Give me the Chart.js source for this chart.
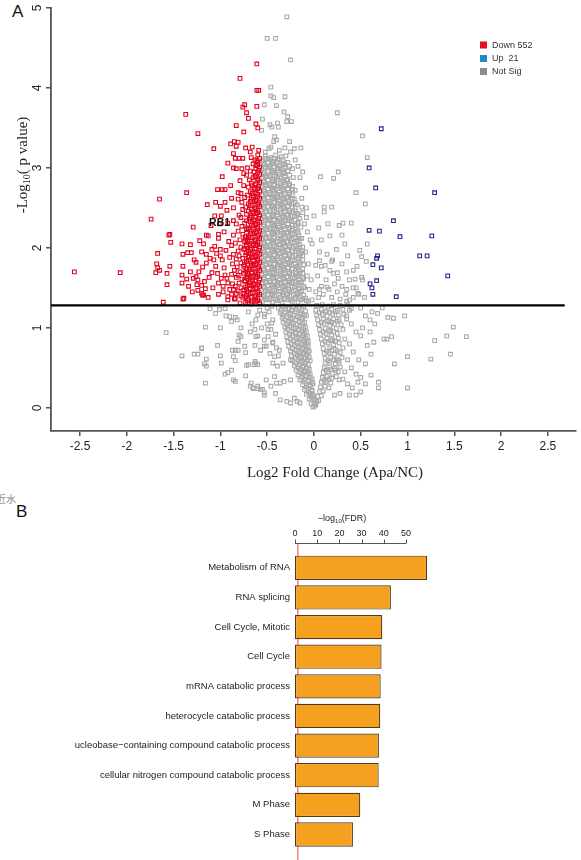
<!DOCTYPE html>
<html>
<head>
<meta charset="utf-8">
<script src="https://cdn.jsdelivr.net/npm/chart.js@4.4.1/dist/chart.umd.min.js"></script>
<style>
  body { margin: 0; background: #fff; width: 581px; height: 860px; position: relative; overflow: hidden; font-family: "Liberation Sans", Arial, sans-serif; }
  canvas { position: absolute; left: 0; }
  #volcano { top: 0; }
  #bars { top: 500px; }
  .tag { position: absolute; line-height: 1; color: #111; font-size: 17px; }
  .wm { position: absolute; left: -4px; top: 494px; font: 10px "Noto Sans CJK SC", sans-serif; color: #8a8a8a; line-height: 1; }
</style>
</head>
<body>
<div class="tag" style="left:12px;top:3px">A</div>
<div class="wm">近水</div>
<div class="tag" style="left:16px;top:503px">B</div>
<canvas id="volcano" width="581" height="490"></canvas>
<canvas id="bars" width="581" height="360"></canvas>
<script>
// ---------- panel A: volcano plot ----------
const xTicks = [-2.5, -2, -1.5, -1, -0.5, 0, 0.5, 1, 1.5, 2, 2.5];
const yTicks = [0, 1, 2, 3, 4, 5];
const pCut = 1.28;              // -log10(p) cut line
const cutLineX = [-2.81, 2.68];
const legendLabels = ['Down 552', 'Up  21', 'Not Sig'];
const legendColors = ['#e3101e', '#1e8bc3', '#8c8c8c'];
const geneLabels = ['RB1'];
const geneLabelPos = [[-1.12, 2.31]];

// significant up (log2FC, -log10 p)
const upPts = [[0.72,3.49],[0.59,3.00],[0.66,2.75],[1.29,2.69],[0.85,2.34],[0.59,2.22],[0.70,2.21],[0.92,2.14],[1.26,2.15],[1.13,1.90],[1.21,1.90],[0.68,1.90],[0.67,1.87],[0.63,1.79],[0.72,1.75],[1.43,1.65],[0.67,1.59],[0.60,1.55],[0.62,1.50],[0.63,1.42],[0.88,1.39]];

// significant down
const downPts = [
[-2.56,1.70],[-2.07,1.69],[-1.74,2.36],[-1.65,2.61],[-1.37,3.67],[-1.24,3.43],[-1.36,2.69],[-1.07,3.24],
[-1.69,1.69],[-1.67,1.75],[-1.68,1.80],[-1.67,1.93],[-1.65,1.72],[-1.57,1.68],[-1.54,1.77],[-1.57,1.54],[-1.61,1.32],[-1.55,2.16],[-1.53,2.07],[-1.54,2.17],
[-1.41,2.05],[-1.32,2.04],[-1.22,2.09],[-1.13,2.15],[-1.02,2.17],[-1.02,2.12],[-1.40,1.92],[-1.35,1.94],[-1.31,1.94],[-1.28,1.85],[-1.40,1.77],[-1.41,1.66],[-1.36,1.61],[-1.41,1.56],[-1.34,1.52],[-1.30,1.45],[-1.39,1.37],[-1.40,1.36],[-1.29,2.26],[-1.15,2.16],[-1.19,1.41],[-1.20,1.43],
[-1.26,1.64],[-1.24,1.60],[-1.20,1.53],[-1.16,1.49],[-1.25,1.54],[-1.32,1.70],[-1.23,1.70],[-1.19,1.76],[-1.15,1.81],[-1.15,1.92],[-1.11,1.87],[-1.09,1.98],[-1.06,2.02],[-1.04,1.93],[-1.00,1.98],[-0.98,1.85],[-1.05,1.77],[-1.09,1.69],[-1.03,1.68],[-0.99,1.62],[-0.95,1.66],[-0.92,1.56],[-1.02,1.56],[-0.97,1.45],[-0.92,1.39],[-0.84,1.37],[-0.83,1.43],[-0.92,1.35],[-1.18,1.41],
[-0.90,1.48],[-0.93,1.62],[-0.96,1.75],[-0.90,1.88],[-0.94,1.97],[-0.91,2.08],[-0.96,2.20],[-0.92,2.31],[-0.99,2.40],[-0.93,2.47],[-1.01,2.30],[-1.06,2.40],[-1.10,2.28],[-1.00,1.90],[-1.07,1.85],[-1.12,1.63],[-1.08,1.50],[-1.02,1.42],[-0.97,1.52],[-1.13,1.38],[-1.17,1.58],[-1.20,1.95],[-1.18,2.05],[-1.26,1.82],[-1.29,1.62],[-1.24,1.47],
[-0.61,4.30],[-0.79,4.12],[-0.61,3.97],[-0.59,3.97],[-0.74,3.79],[-0.76,3.76],[-0.61,3.77],[-0.72,3.69],[-0.70,3.62],[-0.83,3.53],[-0.62,3.55],[-0.60,3.50],[-0.75,3.45],[-0.89,3.30],[-0.85,3.33],[-0.81,3.32],[-0.83,3.27],[-0.73,3.25],[-0.66,3.26],[-0.86,3.18],[-0.68,3.20],[-0.92,3.06],[-0.84,3.12],[-0.80,3.12],[-0.76,3.12],[-0.86,3.00],[-0.83,2.99],[-0.77,2.99],[-0.98,2.89],[-0.79,2.84],[-0.72,2.91],[-1.03,2.73],[-0.98,2.73],[-0.95,2.73],[-0.89,2.78],[-1.14,2.54],[-1.05,2.57],[-1.00,2.52],[-0.95,2.57],[-0.81,2.69],[-0.81,2.61],[-0.88,2.62],[-0.86,2.34],
[-0.58,1.31],[-0.62,1.33],[-0.67,1.30],[-0.73,1.32],[-0.79,1.31],
[-0.60,1.37],[-0.64,1.35],[-0.70,1.36],[-0.76,1.38],[-0.85,1.36],
[-0.58,1.42],[-0.63,1.40],[-0.68,1.43],[-0.72,1.41],[-0.78,1.40],[-0.88,1.42],
[-0.60,1.46],[-0.65,1.48],[-0.70,1.45],[-0.75,1.47],[-0.81,1.46],[-0.86,1.48],
[-0.58,1.52],[-0.62,1.50],[-0.67,1.53],[-0.73,1.51],[-0.78,1.50],[-0.84,1.52],
[-0.59,1.57],[-0.64,1.55],[-0.69,1.56],[-0.74,1.58],[-0.80,1.56],[-0.87,1.55],
[-0.58,1.61],[-0.62,1.63],[-0.66,1.60],[-0.71,1.62],[-0.77,1.61],[-0.83,1.63],
[-0.60,1.67],[-0.65,1.65],[-0.70,1.66],[-0.75,1.68],[-0.81,1.66],[-0.88,1.67],
[-0.58,1.72],[-0.63,1.70],[-0.68,1.73],[-0.73,1.71],[-0.79,1.70],[-0.85,1.72],
[-0.59,1.76],[-0.64,1.78],[-0.69,1.75],[-0.75,1.77],[-0.82,1.76],
[-0.58,1.82],[-0.62,1.80],[-0.67,1.81],[-0.72,1.83],[-0.78,1.81],[-0.87,1.80],
[-0.60,1.86],[-0.65,1.88],[-0.70,1.85],[-0.76,1.87],[-0.83,1.86],
[-0.58,1.92],[-0.63,1.90],[-0.68,1.93],[-0.73,1.91],[-0.80,1.90],[-0.86,1.92],
[-0.59,1.97],[-0.64,1.95],[-0.70,1.96],[-0.75,1.98],[-0.81,1.96],
[-0.58,2.01],[-0.62,2.03],[-0.67,2.00],[-0.72,2.02],[-0.78,2.01],[-0.88,2.03],
[-0.60,2.07],[-0.65,2.05],[-0.69,2.06],[-0.74,2.08],[-0.84,2.06],
[-0.58,2.12],[-0.63,2.10],[-0.68,2.13],[-0.73,2.11],[-0.79,2.10],
[-0.59,2.16],[-0.64,2.18],[-0.70,2.15],[-0.76,2.17],[-0.86,2.16],
[-0.58,2.22],[-0.62,2.20],[-0.67,2.21],[-0.72,2.23],[-0.81,2.21],
[-0.60,2.26],[-0.65,2.28],[-0.70,2.25],[-0.77,2.27],
[-0.58,2.32],[-0.63,2.30],[-0.68,2.33],[-0.74,2.31],[-0.83,2.30],
[-0.59,2.37],[-0.64,2.35],[-0.69,2.36],[-0.78,2.38],
[-0.58,2.41],[-0.62,2.43],[-0.67,2.40],[-0.72,2.42],[-0.80,2.41],
[-0.60,2.47],[-0.65,2.45],[-0.70,2.46],[-0.76,2.48],
[-0.58,2.52],[-0.63,2.50],[-0.68,2.53],[-0.73,2.51],[-0.86,2.50],
[-0.59,2.56],[-0.64,2.58],[-0.70,2.55],[-0.77,2.57],
[-0.58,2.62],[-0.62,2.60],[-0.67,2.61],[-0.74,2.63],
[-0.60,2.67],[-0.65,2.65],[-0.71,2.66],[-0.78,2.68],
[-0.58,2.71],[-0.63,2.73],[-0.68,2.70],
[-0.59,2.77],[-0.64,2.75],[-0.70,2.76],[-0.75,2.78],
[-0.58,2.82],[-0.62,2.80],[-0.67,2.81],
[-0.60,2.86],[-0.65,2.88],[-0.69,2.85],
[-0.58,2.92],[-0.63,2.90],[-0.75,2.93],
[-0.59,2.97],[-0.64,2.95],[-0.68,2.96],
[-0.58,3.01],[-0.62,3.03],[-0.71,3.00],
[-0.60,3.07],[-0.65,3.05],
[-0.58,3.12],[-0.63,3.10],[-0.67,3.13],
[-0.60,3.16],[-0.59,3.22],
[-0.60,1.34],[-0.66,1.33],[-0.71,1.34],[-0.62,1.39],[-0.67,1.38],[-0.73,1.39],[-0.60,1.44],[-0.66,1.44],[-0.75,1.43],[-0.62,1.49],[-0.68,1.49],[-0.72,1.48],[-0.60,1.54],[-0.65,1.54],[-0.71,1.53],[-0.62,1.59],[-0.68,1.58],[-0.74,1.59],[-0.60,1.64],[-0.67,1.63],[-0.72,1.64],[-0.62,1.69],[-0.66,1.69],[-0.71,1.68],[-0.60,1.74],[-0.66,1.73],[-0.72,1.74],[-0.62,1.79],[-0.67,1.78],[-0.74,1.79],[-0.60,1.84],[-0.65,1.84],[-0.72,1.83],[-0.62,1.89],[-0.67,1.88],[-0.70,1.89],[-0.60,1.94],[-0.66,1.93],[-0.72,1.94],[-0.62,1.99],[-0.68,1.98],[-0.74,1.99],[-0.60,2.04],[-0.65,2.03],[-0.72,2.04],[-0.62,2.09],[-0.67,2.08],[-0.71,2.09],[-0.60,2.14],[-0.66,2.13],[-0.73,2.14],[-0.62,2.19],[-0.68,2.18],[-0.60,2.24],[-0.65,2.23],[-0.72,2.24],[-0.62,2.29],[-0.67,2.28],[-0.60,2.34],[-0.66,2.33],[-0.72,2.34],[-0.62,2.39],[-0.68,2.38],[-0.60,2.44],[-0.65,2.43],[-0.62,2.49],[-0.67,2.48],[-0.60,2.54],[-0.66,2.53],[-0.62,2.59],[-0.68,2.58],[-0.60,2.64],[-0.65,2.63],[-0.62,2.69],[-0.66,2.68],[-0.60,2.74],[-0.62,2.79],[-0.66,2.78],[-0.60,2.84],[-0.62,2.89],[-0.60,2.94],[-0.62,2.99],[-0.60,3.04],[-0.61,3.09]
];

// not significant
const nsPts = [
[-0.29,4.89],[-0.50,4.62],[-0.41,4.62],[-0.25,4.35],[-0.46,4.01],[-0.46,3.90],[-0.43,3.88],[-0.31,3.89],[-0.53,3.79],[-0.40,3.78],[-0.32,3.70],[-0.28,3.64],[-0.24,3.58],[-0.29,3.58],[-0.55,3.61],[-0.47,3.54],[-0.45,3.51],[-0.39,3.56],[-0.38,3.51],[-0.56,3.47],[-0.42,3.39],[-0.40,3.35],[-0.43,3.33],[-0.26,3.33],[-0.14,3.25],[-0.48,3.24],[-0.46,3.26],[-0.37,3.22],[-0.31,3.25],[-0.25,3.20],[-0.21,3.24],[-0.52,3.20],
[0.25,3.69],[0.52,3.40],[0.57,3.13],[0.07,2.89],[0.21,2.87],[0.26,2.95],[0.45,2.69],[0.55,2.55],[0.15,2.30],[0.11,2.51],[0.19,2.51],[0.11,2.45],[0.17,2.15],[0.30,2.16],[-0.13,2.51],[-0.08,2.50],[-0.12,2.44],
[-0.10,2.30],[-0.08,2.38],[-0.13,2.62],[-0.09,2.75],[-0.15,2.88],[-0.12,2.95],[-0.17,3.02],[-0.20,3.10],[-0.07,2.20],[-0.04,2.10],[-0.09,1.95],[-0.06,1.80],[-0.07,1.65],[-0.05,1.48],[-0.03,1.60],
[-0.02,1.35],[0.02,1.45],[0.05,1.38],[0.08,1.52],[0.04,1.65],[0.10,1.42],[0.13,1.60],[0.16,1.48],[0.19,1.38],[0.22,1.55],[0.25,1.45],[0.28,1.36],[0.12,1.78],[0.17,1.72],[0.21,1.68],[0.26,1.62],[0.30,1.52],[0.34,1.42],[0.38,1.35],[0.06,1.95],[0.14,1.92],[0.20,1.85],[0.24,1.98],[0.30,1.80],[0.36,1.90],[0.42,1.72],[0.08,2.10],[0.31,2.31],[0.40,2.31],[0.57,2.05],[0.05,2.25],[-0.02,2.05],[0.00,2.40],[0.02,1.78],[0.45,1.50],[0.48,1.42],[0.52,1.60],[0.38,1.60],[0.33,2.05],[0.27,2.28],[0.35,1.33],[0.42,1.38],
[0.06,1.84],[0.08,1.77],[0.19,1.83],[0.35,1.70],[0.25,1.69],[0.44,1.61],[0.51,1.63],[0.06,1.48],[0.14,1.51],[0.35,1.48],[0.42,1.50],[0.47,1.43],[0.54,1.38],[0.49,1.97],[0.51,1.89],[0.56,1.83],[0.46,1.77],
[0.97,1.15],[0.85,1.12],[0.79,1.13],[0.62,1.20],[0.73,1.25],[0.50,1.25],[0.40,1.24],[0.60,1.10],[1.49,1.01],[1.42,0.90],[1.63,0.89],[1.29,0.84],[0.83,0.89],[0.75,0.86],[0.78,0.86],[0.64,0.82],[0.57,0.78],[1.46,0.67],[1.25,0.61],[1.00,0.64],[0.86,0.55],[0.61,0.67],[1.00,0.25],[0.69,0.32],[0.69,0.25],[0.61,0.41],[0.50,0.38],[0.47,0.32],[0.41,0.25],[0.36,0.30],[0.31,0.36],[0.27,0.35],[0.28,0.18],[0.22,0.16],[0.38,0.16],[0.45,0.16],
[0.40,1.05],[0.45,0.95],[0.50,0.90],[0.38,0.80],[0.42,0.70],[0.48,0.60],[0.55,0.55],[0.36,0.60],[0.40,0.50],[0.52,1.00],[0.60,0.95],[0.65,1.05],[0.45,0.42],[0.33,0.45],[0.55,0.30],[0.50,0.20],[0.35,1.15],[0.55,1.15],[0.68,1.18],
[-1.58,0.94],[-1.16,1.01],[-1.00,1.00],[-1.20,0.75],[-1.41,0.65],[-1.28,0.67],[-1.24,0.67],[-1.20,0.74],[-1.16,0.31],[-1.03,0.78],[-1.00,0.65],[-0.99,0.56],[-1.15,0.61],[-1.17,0.55],[-1.15,0.52],[-1.11,1.24],[-1.05,1.18],[-1.01,1.23],[-0.95,1.24],[-0.94,1.15],[-0.90,1.14],[-0.84,1.13],[-0.82,1.10],[-0.88,1.08],
[-0.87,0.72],[-0.84,0.72],[-0.84,0.59],[-0.88,0.47],[-0.92,0.44],[-0.95,0.42],[-0.86,0.35],[-0.84,0.33],[-0.86,0.64],[-0.81,0.72],[-0.72,0.53],[-0.73,0.40],[-0.64,0.54],[-0.62,0.56],[-0.80,0.91],[-0.78,0.89],[-0.81,0.83],[-0.78,1.00],[-0.73,0.69],[-0.74,0.77],[-0.70,0.54],[-0.63,0.58],[-0.60,0.54],
[-0.68,0.27],[-0.65,0.24],[-0.60,0.24],[-0.57,0.23],[-0.53,0.19],[-0.51,0.35],[-0.42,0.39],[-0.40,0.31],[-0.36,0.31],[-0.32,0.33],[-0.25,0.35],[-0.44,0.56],[-0.39,0.52],[-0.33,0.56],[-0.25,0.60],[-0.53,0.85],[-0.49,0.89],[-0.53,0.77],[-0.67,0.31],[-0.65,0.25],[-0.60,0.27],[-0.55,0.23],[-0.53,0.16],[-0.46,0.27],[-0.41,0.18],[-0.36,0.10],[-0.29,0.08],[-0.25,0.06],[-0.21,0.12],[-0.18,0.08],[-0.15,0.06],
[-0.58,1.22],[-0.53,1.17],[-0.48,1.20],[-0.44,1.10],[-0.50,1.05],[-0.56,1.00],[-0.46,0.98],[-0.41,0.92],[-0.44,0.82],[-0.40,0.75],[-0.38,0.65],[-0.47,0.68],[-0.60,0.90],[-0.62,1.10],[-0.66,1.05],[-0.68,0.95],[-0.57,0.72],[-0.63,0.78],[-0.63,0.98],[-0.62,0.89],[-0.60,1.16],[-0.53,1.14],[-0.49,0.98],[-0.45,1.06],[-0.51,0.77],[-0.44,0.81],[-0.37,0.72],[-0.42,0.64],[-0.50,1.25],[-0.45,1.27],[-0.70,1.20],
[-0.55,1.33],[-0.50,1.35],[-0.44,1.32],[-0.39,1.34],[-0.34,1.31],[-0.28,1.35],[-0.23,1.33],[-0.17,1.32],[-0.12,1.36],[-0.06,1.33],
[-0.53,1.39],[-0.47,1.37],[-0.42,1.40],[-0.36,1.38],[-0.31,1.37],[-0.26,1.40],[-0.20,1.38],[-0.15,1.39],[-0.09,1.37],
[-0.56,1.44],[-0.50,1.46],[-0.45,1.43],[-0.40,1.45],[-0.33,1.44],[-0.29,1.42],[-0.24,1.45],[-0.18,1.44],[-0.13,1.46],
[-0.53,1.50],[-0.48,1.48],[-0.42,1.51],[-0.37,1.49],[-0.31,1.50],[-0.27,1.48],[-0.21,1.51],[-0.16,1.49],[-0.10,1.50],
[-0.55,1.55],[-0.51,1.57],[-0.45,1.54],[-0.39,1.56],[-0.35,1.55],[-0.30,1.53],[-0.24,1.56],[-0.19,1.55],[-0.13,1.57],
[-0.53,1.61],[-0.47,1.59],[-0.43,1.62],[-0.37,1.60],[-0.32,1.61],[-0.26,1.59],[-0.21,1.62],[-0.16,1.60],[-0.11,1.61],
[-0.56,1.66],[-0.50,1.68],[-0.44,1.65],[-0.40,1.67],[-0.34,1.66],[-0.29,1.64],[-0.23,1.67],[-0.18,1.66],[-0.12,1.68],
[-0.53,1.72],[-0.48,1.70],[-0.42,1.73],[-0.36,1.71],[-0.31,1.72],[-0.27,1.70],[-0.20,1.73],[-0.15,1.71],
[-0.55,1.77],[-0.51,1.79],[-0.45,1.76],[-0.39,1.78],[-0.34,1.77],[-0.28,1.75],[-0.24,1.78],[-0.18,1.77],[-0.11,1.79],
[-0.53,1.83],[-0.47,1.81],[-0.42,1.84],[-0.37,1.82],[-0.32,1.83],[-0.26,1.81],[-0.21,1.84],[-0.15,1.82],
[-0.56,1.88],[-0.50,1.90],[-0.44,1.87],[-0.39,1.89],[-0.35,1.88],[-0.29,1.86],[-0.23,1.89],[-0.17,1.88],[-0.12,1.90],
[-0.53,1.94],[-0.48,1.92],[-0.42,1.95],[-0.37,1.93],[-0.31,1.94],[-0.26,1.92],[-0.20,1.95],[-0.14,1.93],
[-0.55,1.99],[-0.50,2.01],[-0.45,1.98],[-0.40,2.00],[-0.34,1.99],[-0.28,1.97],[-0.23,2.00],[-0.18,1.99],[-0.12,2.01],
[-0.53,2.05],[-0.47,2.03],[-0.43,2.06],[-0.37,2.04],[-0.32,2.05],[-0.26,2.03],[-0.21,2.06],[-0.15,2.04],
[-0.56,2.10],[-0.51,2.12],[-0.45,2.09],[-0.39,2.11],[-0.34,2.10],[-0.29,2.08],[-0.24,2.11],[-0.18,2.10],[-0.13,2.12],
[-0.53,2.16],[-0.48,2.14],[-0.42,2.17],[-0.36,2.15],[-0.31,2.16],[-0.27,2.14],[-0.21,2.17],[-0.16,2.15],
[-0.55,2.21],[-0.50,2.23],[-0.44,2.20],[-0.40,2.22],[-0.35,2.21],[-0.29,2.19],[-0.23,2.22],[-0.18,2.21],
[-0.53,2.27],[-0.47,2.25],[-0.42,2.28],[-0.37,2.26],[-0.32,2.27],[-0.26,2.25],[-0.20,2.28],[-0.14,2.26],
[-0.56,2.32],[-0.50,2.34],[-0.45,2.31],[-0.39,2.33],[-0.34,2.32],[-0.28,2.30],[-0.24,2.33],[-0.17,2.32],
[-0.53,2.38],[-0.48,2.36],[-0.43,2.39],[-0.37,2.37],[-0.31,2.38],[-0.27,2.36],[-0.21,2.39],[-0.15,2.37],
[-0.55,2.43],[-0.51,2.45],[-0.44,2.42],[-0.40,2.44],[-0.35,2.43],[-0.29,2.41],[-0.23,2.44],[-0.18,2.43],
[-0.53,2.49],[-0.47,2.47],[-0.42,2.50],[-0.36,2.48],[-0.32,2.49],[-0.26,2.47],[-0.20,2.50],
[-0.56,2.54],[-0.50,2.56],[-0.45,2.53],[-0.39,2.55],[-0.34,2.54],[-0.28,2.52],[-0.24,2.55],[-0.18,2.54],
[-0.53,2.60],[-0.48,2.58],[-0.42,2.61],[-0.37,2.59],[-0.31,2.60],[-0.27,2.58],[-0.21,2.61],
[-0.55,2.65],[-0.50,2.67],[-0.44,2.64],[-0.40,2.66],[-0.35,2.65],[-0.29,2.63],[-0.23,2.66],
[-0.53,2.71],[-0.47,2.69],[-0.43,2.72],[-0.37,2.70],[-0.32,2.71],[-0.26,2.69],[-0.20,2.72],
[-0.56,2.76],[-0.51,2.78],[-0.45,2.75],[-0.39,2.77],[-0.34,2.76],[-0.28,2.74],[-0.23,2.77],
[-0.53,2.82],[-0.48,2.80],[-0.42,2.83],[-0.36,2.81],[-0.31,2.82],[-0.26,2.80],
[-0.55,2.87],[-0.50,2.89],[-0.44,2.86],[-0.40,2.88],[-0.35,2.87],[-0.29,2.85],[-0.22,2.88],
[-0.53,2.93],[-0.47,2.91],[-0.42,2.94],[-0.37,2.92],[-0.32,2.93],[-0.26,2.91],
[-0.56,2.98],[-0.50,3.00],[-0.45,2.97],[-0.39,2.99],[-0.34,2.98],[-0.28,2.96],[-0.23,2.99],
[-0.53,3.04],[-0.48,3.02],[-0.43,3.05],[-0.37,3.03],[-0.31,3.04],[-0.26,3.02],
[-0.55,3.09],[-0.49,3.11],[-0.44,3.08],[-0.39,3.10],[-0.33,3.09],[-0.28,3.07],
[-0.52,3.15],[-0.46,3.13],[-0.41,3.16],[-0.35,3.14],[-0.30,3.15],
[-0.52,1.36],[-0.47,1.35],[-0.41,1.36],[-0.36,1.35],[-0.31,1.36],[-0.25,1.35],[-0.20,1.36],[-0.14,1.35],[-0.08,1.34],
[-0.54,1.41],[-0.49,1.42],[-0.44,1.41],[-0.38,1.42],[-0.33,1.41],[-0.28,1.42],[-0.22,1.41],[-0.17,1.42],[-0.11,1.41],
[-0.52,1.47],[-0.47,1.46],[-0.42,1.47],[-0.36,1.46],[-0.31,1.47],[-0.26,1.46],[-0.20,1.47],[-0.15,1.46],
[-0.54,1.52],[-0.49,1.53],[-0.44,1.52],[-0.39,1.53],[-0.33,1.52],[-0.28,1.53],[-0.23,1.52],[-0.17,1.53],[-0.11,1.52],
[-0.52,1.58],[-0.47,1.57],[-0.42,1.58],[-0.36,1.57],[-0.31,1.58],[-0.26,1.57],[-0.20,1.58],[-0.15,1.57],
[-0.54,1.63],[-0.49,1.64],[-0.44,1.63],[-0.39,1.64],[-0.33,1.63],[-0.28,1.64],[-0.23,1.63],[-0.17,1.64],[-0.12,1.63],
[-0.52,1.69],[-0.47,1.68],[-0.42,1.69],[-0.36,1.68],[-0.31,1.69],[-0.26,1.68],[-0.20,1.69],[-0.15,1.68],
[-0.54,1.74],[-0.49,1.75],[-0.44,1.74],[-0.39,1.75],[-0.33,1.74],[-0.28,1.75],[-0.23,1.74],[-0.17,1.75],[-0.12,1.74],
[-0.52,1.80],[-0.47,1.79],[-0.42,1.80],[-0.36,1.79],[-0.31,1.80],[-0.26,1.79],[-0.20,1.80],[-0.15,1.79],
[-0.54,1.85],[-0.49,1.86],[-0.44,1.85],[-0.39,1.86],[-0.33,1.85],[-0.28,1.86],[-0.23,1.85],[-0.17,1.86],[-0.12,1.85],
[-0.52,1.91],[-0.47,1.90],[-0.42,1.91],[-0.36,1.90],[-0.31,1.91],[-0.26,1.90],[-0.20,1.91],[-0.15,1.90],
[-0.54,1.96],[-0.49,1.97],[-0.44,1.96],[-0.39,1.97],[-0.33,1.96],[-0.28,1.97],[-0.23,1.96],[-0.17,1.97],[-0.12,1.96],
[-0.52,2.02],[-0.47,2.01],[-0.42,2.02],[-0.36,2.01],[-0.31,2.02],[-0.26,2.01],[-0.20,2.02],[-0.15,2.01],
[-0.54,2.07],[-0.49,2.08],[-0.44,2.07],[-0.39,2.08],[-0.33,2.07],[-0.28,2.08],[-0.23,2.07],[-0.17,2.08],
[-0.52,2.13],[-0.47,2.12],[-0.42,2.13],[-0.36,2.12],[-0.31,2.13],[-0.26,2.12],[-0.20,2.13],[-0.15,2.12],
[-0.54,2.18],[-0.49,2.19],[-0.44,2.18],[-0.39,2.19],[-0.33,2.18],[-0.28,2.19],[-0.23,2.18],[-0.17,2.19],
[-0.52,2.24],[-0.47,2.23],[-0.42,2.24],[-0.36,2.23],[-0.31,2.24],[-0.26,2.23],[-0.20,2.24],
[-0.54,2.29],[-0.49,2.30],[-0.44,2.29],[-0.39,2.30],[-0.33,2.29],[-0.28,2.30],[-0.23,2.29],[-0.17,2.30],
[-0.52,2.35],[-0.47,2.34],[-0.42,2.35],[-0.36,2.34],[-0.31,2.35],[-0.26,2.34],[-0.20,2.35],
[-0.54,2.40],[-0.49,2.41],[-0.44,2.40],[-0.39,2.41],[-0.33,2.40],[-0.28,2.41],[-0.23,2.40],[-0.17,2.41],
[-0.52,2.46],[-0.47,2.45],[-0.42,2.46],[-0.36,2.45],[-0.31,2.46],[-0.26,2.45],[-0.20,2.46],
[-0.54,2.51],[-0.49,2.52],[-0.44,2.51],[-0.39,2.52],[-0.33,2.51],[-0.28,2.52],[-0.23,2.51],
[-0.52,2.57],[-0.47,2.56],[-0.42,2.57],[-0.36,2.56],[-0.31,2.57],[-0.26,2.56],[-0.20,2.57],
[-0.54,2.62],[-0.49,2.63],[-0.44,2.62],[-0.39,2.63],[-0.33,2.62],[-0.28,2.63],[-0.23,2.62],
[-0.52,2.68],[-0.47,2.67],[-0.42,2.68],[-0.36,2.67],[-0.31,2.68],[-0.26,2.67],
[-0.54,2.73],[-0.49,2.74],[-0.44,2.73],[-0.39,2.74],[-0.33,2.73],[-0.28,2.74],[-0.23,2.73],
[-0.52,2.79],[-0.47,2.78],[-0.42,2.79],[-0.36,2.78],[-0.31,2.79],[-0.26,2.78],
[-0.54,2.84],[-0.49,2.85],[-0.44,2.84],[-0.39,2.85],[-0.33,2.84],[-0.28,2.85],
[-0.52,2.90],[-0.47,2.89],[-0.42,2.90],[-0.36,2.89],[-0.31,2.90],
[-0.54,2.95],[-0.49,2.96],[-0.44,2.95],[-0.39,2.96],[-0.33,2.95],[-0.28,2.96],
[-0.52,3.01],[-0.47,3.00],[-0.42,3.01],[-0.36,3.00],[-0.31,3.01],
[-0.54,3.06],[-0.49,3.07],[-0.44,3.06],[-0.39,3.07],[-0.33,3.06],
[-0.52,3.12],[-0.47,3.11],[-0.42,3.12],[-0.37,3.11],
[-0.38,1.25],[-0.33,1.27],[-0.27,1.24],[-0.22,1.26],[-0.16,1.25],[-0.11,1.27],
[-0.36,1.19],[-0.31,1.20],[-0.25,1.18],[-0.20,1.20],[-0.14,1.19],[-0.09,1.21],
[-0.34,1.13],[-0.29,1.14],[-0.23,1.12],[-0.18,1.14],[-0.12,1.13],[-0.08,1.15],
[-0.33,1.07],[-0.27,1.08],[-0.22,1.06],[-0.16,1.08],[-0.10,1.07],
[-0.31,1.01],[-0.26,1.02],[-0.20,1.00],[-0.15,1.02],[-0.09,1.01],
[-0.30,0.95],[-0.24,0.96],[-0.19,0.94],[-0.13,0.96],[-0.08,0.95],
[-0.29,0.89],[-0.23,0.90],[-0.17,0.88],[-0.12,0.90],[-0.07,0.89],
[-0.28,0.83],[-0.22,0.84],[-0.16,0.82],[-0.11,0.84],[-0.06,0.83],
[-0.27,0.77],[-0.21,0.78],[-0.15,0.76],[-0.10,0.78],[-0.06,0.77],
[-0.25,0.71],[-0.19,0.72],[-0.14,0.70],[-0.09,0.72],[-0.05,0.71],
[-0.24,0.65],[-0.18,0.66],[-0.13,0.64],[-0.08,0.66],
[-0.23,0.59],[-0.17,0.60],[-0.12,0.58],[-0.07,0.60],[-0.04,0.59],
[-0.21,0.53],[-0.16,0.54],[-0.11,0.52],[-0.06,0.54],
[-0.19,0.47],[-0.14,0.48],[-0.09,0.46],[-0.05,0.48],
[-0.17,0.41],[-0.12,0.42],[-0.08,0.40],[-0.04,0.42],
[-0.15,0.35],[-0.10,0.36],[-0.06,0.34],[-0.02,0.36],
[-0.12,0.29],[-0.08,0.30],[-0.04,0.28],[-0.01,0.30],
[-0.10,0.23],[-0.06,0.24],[-0.02,0.22],
[-0.08,0.17],[-0.04,0.18],[-0.01,0.16],
[-0.05,0.11],[-0.02,0.12],[0.01,0.10],
[-0.03,0.05],[0.00,0.06],[0.02,0.04],[-0.01,0.01],[0.01,0.02],
[-0.35,1.22],[-0.30,1.23],[-0.24,1.22],[-0.19,1.23],[-0.13,1.22],
[-0.33,1.16],[-0.27,1.17],[-0.21,1.16],[-0.15,1.17],[-0.10,1.16],
[-0.31,1.10],[-0.25,1.11],[-0.19,1.10],[-0.13,1.11],
[-0.29,1.04],[-0.24,1.05],[-0.18,1.04],[-0.12,1.05],
[-0.28,0.98],[-0.22,0.99],[-0.16,0.98],[-0.11,0.99],
[-0.26,0.92],[-0.20,0.93],[-0.15,0.92],[-0.10,0.93],
[-0.25,0.86],[-0.19,0.87],[-0.14,0.86],[-0.09,0.87],
[-0.24,0.80],[-0.18,0.81],[-0.13,0.80],[-0.08,0.81],
[-0.23,0.74],[-0.17,0.75],[-0.12,0.74],[-0.08,0.75],
[-0.21,0.68],[-0.16,0.69],[-0.11,0.68],[-0.06,0.69],
[-0.20,0.62],[-0.15,0.63],[-0.10,0.62],[-0.05,0.63],
[-0.19,0.56],[-0.14,0.57],[-0.09,0.56],
[-0.17,0.50],[-0.12,0.51],[-0.07,0.50],
[-0.15,0.44],[-0.11,0.45],[-0.06,0.44],
[-0.13,0.38],[-0.09,0.39],[-0.04,0.38],
[-0.10,0.32],[-0.06,0.33],[-0.02,0.32],
[-0.08,0.26],[-0.04,0.27],[-0.06,0.20],[-0.02,0.21],[-0.03,0.14],[0.00,0.15],
[0.03,0.08],[0.05,0.09],[0.04,0.14],[0.08,0.15],[0.06,0.20],[0.10,0.21],
[0.07,0.26],[0.12,0.27],[0.16,0.25],[0.08,0.32],[0.13,0.33],[0.18,0.31],
[0.09,0.38],[0.14,0.39],[0.19,0.37],[0.24,0.39],[0.10,0.44],[0.15,0.45],[0.20,0.43],[0.26,0.45],
[0.11,0.50],[0.17,0.51],[0.22,0.49],[0.28,0.51],[0.12,0.56],[0.17,0.57],[0.23,0.55],[0.27,0.57],
[0.12,0.62],[0.18,0.63],[0.24,0.61],[0.30,0.63],[0.11,0.68],[0.16,0.69],[0.22,0.67],[0.28,0.69],
[0.10,0.74],[0.17,0.75],[0.23,0.73],[0.31,0.75],[0.09,0.80],[0.15,0.81],[0.21,0.79],[0.27,0.81],
[0.08,0.86],[0.14,0.87],[0.20,0.85],[0.26,0.87],[0.33,0.86],[0.07,0.92],[0.13,0.93],[0.19,0.91],[0.25,0.93],
[0.06,0.98],[0.12,0.99],[0.18,0.97],[0.24,0.99],[0.31,0.98],[0.05,1.04],[0.11,1.05],[0.17,1.03],[0.22,1.05],[0.29,1.04],
[0.04,1.10],[0.10,1.11],[0.16,1.09],[0.21,1.11],[0.27,1.10],[0.35,1.11],[0.03,1.16],[0.09,1.17],[0.14,1.15],[0.20,1.17],[0.26,1.16],[0.32,1.17],
[0.02,1.22],[0.08,1.23],[0.13,1.21],[0.19,1.23],[0.25,1.22],[0.31,1.23],[0.38,1.22],[0.03,1.28],[0.09,1.29],[0.15,1.27],[0.21,1.29],[0.28,1.28],[0.36,1.29],
[0.11,0.35],[0.16,0.36],[0.13,0.47],[0.18,0.48],[0.23,0.47],[0.15,0.59],[0.21,0.60],[0.26,0.59],[0.14,0.71],[0.19,0.72],[0.25,0.71],
[0.12,0.83],[0.18,0.84],[0.23,0.83],[0.10,0.95],[0.16,0.96],[0.21,0.95],[0.08,1.07],[0.14,1.08],[0.19,1.07],[0.25,1.08],[0.06,1.19],[0.12,1.20],[0.17,1.19],[0.23,1.20]
];

const pt = (p) => ({ x: p[0], y: p[1] });

const volcanoDecor = {
  id: 'volcanoDecor',
  afterDraw(chart) {
    const { ctx, scales: { x, y } } = chart;
    ctx.save();
    ctx.fillStyle = '#222';
    // y tick labels, turned like R does
    ctx.font = '12px "Liberation Sans", Arial, sans-serif';
    ctx.textAlign = 'center';
    ctx.textBaseline = 'middle';
    yTicks.forEach((v) => {
      ctx.save();
      ctx.translate(38, y.getPixelForValue(v));
      ctx.rotate(-Math.PI / 2);
      ctx.fillText(String(v), 0, 0);
      ctx.restore();
    });

    // axis titles
    const serif = '"Liberation Serif", "Times New Roman", serif';
    ctx.textAlign = 'left';
    ctx.textBaseline = 'alphabetic';
    ctx.font = '15px ' + serif;
    const a = '-Log', c = '( p value)';
    const wa = ctx.measureText(a).width, wc = ctx.measureText(c).width;
    ctx.font = '10px ' + serif;
    const wb = ctx.measureText('10').width;
    ctx.save();
    ctx.translate(22, 165);
    ctx.rotate(-Math.PI / 2);
    const sx = -(wa + wb + wc) / 2;
    ctx.font = '15px ' + serif;
    ctx.fillText(a, sx, 5);
    ctx.font = '10px ' + serif;
    ctx.fillText('10', sx + wa, 8);
    ctx.font = '15px ' + serif;
    ctx.fillText(c, sx + wa + wb, 5);
    ctx.restore();

    ctx.font = '15px ' + serif;
    ctx.textAlign = 'center';
    ctx.textBaseline = 'alphabetic';
    ctx.fillStyle = '#222';
    ctx.fillText('Log2 Fold Change (Apa/NC)', 335, 477);

    // legend
    ctx.font = '9px "Liberation Sans", Arial, sans-serif';
    ctx.textAlign = 'left';
    ctx.textBaseline = 'middle';
    const rows = [45, 58.5, 71.5];
    legendLabels.forEach((lab, i) => {
      ctx.fillStyle = legendColors[i];
      ctx.fillRect(480, rows[i] - 3.5, 7, 7);
      ctx.fillStyle = '#333';
      ctx.fillText(lab, 492, rows[i] + 0.5);
    });

    // gene label
    ctx.font = 'bold 10.5px "Liberation Sans", Arial, sans-serif';
    ctx.fillStyle = '#111';
    geneLabels.forEach((g, i) => {
      ctx.fillText(g, x.getPixelForValue(geneLabelPos[i][0]), y.getPixelForValue(geneLabelPos[i][1]));
    });
    ctx.restore();
  }
};

const ptStyle = { pointStyle: 'rect', pointRadius: 2.6, pointBorderWidth: 1.1, pointBackgroundColor: 'rgba(255,255,255,0)' };

new Chart(document.getElementById('volcano'), {
  type: 'scatter',
  data: {
    datasets: [
      { type: 'line', data: cutLineX.map((v) => ({ x: v, y: pCut })), borderColor: '#000', borderWidth: 2.2, pointRadius: 0, showLine: true },
      { data: upPts.map(pt), pointBorderColor: '#25258a', ...ptStyle },
      { data: downPts.map(pt), pointBorderColor: '#e2061f', ...ptStyle },
      { data: nsPts.map(pt), pointBorderColor: '#a9a9a9', ...ptStyle }
    ]
  },
  options: {
    responsive: false,
    animation: false,
    events: [],
    layout: { padding: { top: 8, right: 1, left: 0, bottom: 0 } },
    plugins: { legend: { display: false }, tooltip: { enabled: false } },
    scales: {
      x: {
        type: 'linear', min: -2.81, max: 2.8,
        afterBuildTicks: (s) => { s.ticks = xTicks.map((v) => ({ value: v })); },
        afterFit: (s) => { s.height = 59; },
        border: { color: '#555', width: 1.8 },
        grid: { drawOnChartArea: false, drawTicks: true, tickLength: 5, color: '#555', lineWidth: 1.5 },
        ticks: { autoSkip: false, maxRotation: 0, padding: 3, color: '#222', font: { family: 'Liberation Sans', size: 12 }, callback: (v) => String(v) }
      },
      y: {
        type: 'linear', min: -0.29, max: 5.0,
        afterBuildTicks: (s) => { s.ticks = yTicks.map((v) => ({ value: v })); },
        afterFit: (s) => { s.width = 51; },
        border: { color: '#555', width: 1.8 },
        grid: { drawOnChartArea: false, drawTicks: true, tickLength: 5, color: '#555', lineWidth: 1.5 },
        ticks: { display: false }
      }
    }
  },
  plugins: [volcanoDecor]
});

// ---------- panel B: enrichment bars ----------
const terms = ['Metabolism of RNA', 'RNA splicing', 'Cell Cycle, Mitotic', 'Cell Cycle', 'mRNA catabolic process', 'heterocycle catabolic process', 'ucleobase\u2212containing compound catabolic process', 'cellular nitrogen compound catabolic process', 'M Phase', 'S Phase'];
const fdrScores = [59.5, 43.2, 39.3, 39.0, 38.6, 38.4, 37.8, 37.7, 29.4, 26.1];
const fdrTicks = [0, 10, 20, 30, 40, 50];
const fdrCut = 1.3;

const barDecor = {
  id: 'barDecor',
  beforeDatasetsDraw(chart) {
    const { ctx, scales: { x } } = chart;
    const rx = x.getPixelForValue(fdrCut);
    ctx.save();
    ctx.strokeStyle = '#e8453c';
    ctx.lineWidth = 1;
    ctx.beginPath();
    ctx.moveTo(rx, 43);
    ctx.lineTo(rx, chart.height);
    ctx.stroke();
    ctx.restore();
  },
  afterDraw(chart) {
    const { ctx, scales: { x } } = chart;
    const axisY = 43;
    ctx.save();
    ctx.strokeStyle = '#555';
    ctx.lineWidth = 1;
    ctx.beginPath();
    ctx.moveTo(x.getPixelForValue(fdrTicks[0]), axisY + 0.5);
    ctx.lineTo(x.getPixelForValue(fdrTicks[fdrTicks.length - 1]), axisY + 0.5);
    fdrTicks.forEach((v) => {
      const px = Math.round(x.getPixelForValue(v)) + 0.5;
      ctx.moveTo(px, axisY + 0.5);
      ctx.lineTo(px, axisY - 3.5);
    });
    ctx.stroke();
    ctx.fillStyle = '#222';
    ctx.font = '9px "Liberation Sans", Arial, sans-serif';
    ctx.textAlign = 'center';
    ctx.textBaseline = 'middle';
    fdrTicks.forEach((v) => ctx.fillText(String(v), x.getPixelForValue(v), 34));

    // title  -log10(FDR)
    ctx.textBaseline = 'alphabetic';
    ctx.textAlign = 'left';
    const a = '\u2212log', c = '(FDR)';
    ctx.font = '9px "Liberation Sans", Arial, sans-serif';
    const wa = ctx.measureText(a).width, wc = ctx.measureText(c).width;
    ctx.font = '6px "Liberation Sans", Arial, sans-serif';
    const wb = ctx.measureText('10').width;
    const sx = 342 - (wa + wb + wc) / 2;
    ctx.font = '9px "Liberation Sans", Arial, sans-serif';
    ctx.fillText(a, sx, 21);
    ctx.font = '6px "Liberation Sans", Arial, sans-serif';
    ctx.fillText('10', sx + wa, 23);
    ctx.font = '9px "Liberation Sans", Arial, sans-serif';
    ctx.fillText(c, sx + wa + wb, 21);
    ctx.restore();
  }
};

new Chart(document.getElementById('bars'), {
  type: 'bar',
  data: {
    labels: terms,
    datasets: [{
      data: fdrScores,
      backgroundColor: '#f5a01e',
      borderColor: '#4e3a1c',
      borderWidth: 1.2,
      borderSkipped: false,
      barPercentage: 0.82,
      categoryPercentage: 1.0
    }]
  },
  options: {
    indexAxis: 'y',
    responsive: false,
    animation: false,
    events: [],
    layout: { padding: { top: 53, right: 152.8, bottom: 2, left: 0 } },
    plugins: { legend: { display: false }, tooltip: { enabled: false } },
    scales: {
      x: { type: 'linear', min: 0, max: 60, display: false },
      y: {
        type: 'category',
        afterFit: (s) => { s.width = 295; },
        grid: { display: false, drawTicks: false },
        border: { display: false },
        ticks: { padding: 5, color: '#222', font: { family: 'Liberation Sans', size: 9.5 } }
      }
    }
  },
  plugins: [barDecor]
});
</script>
</body>
</html>
